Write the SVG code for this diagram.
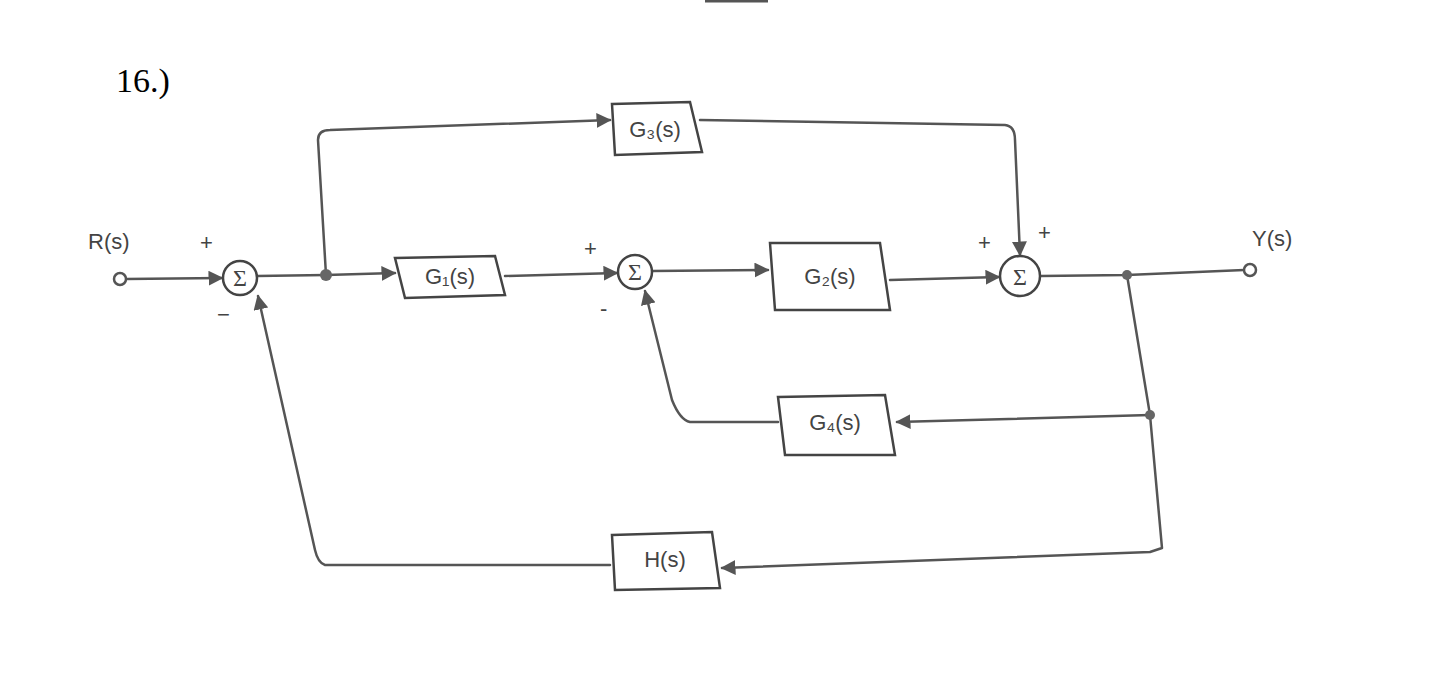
<svg xmlns="http://www.w3.org/2000/svg" width="1432" height="682" viewBox="0 0 1432 682">
<style>
.w{fill:none;stroke:#555;stroke-width:2.5;stroke-linecap:round;stroke-linejoin:round}
.b{fill:#fff;stroke:#444;stroke-width:2.5}
.t{font-family:"Liberation Sans",sans-serif;font-size:22px;fill:#444}
.s{font-family:"Liberation Serif",serif;font-size:24px;fill:#444}
.d{fill:#666}
</style>
<defs><marker id="a" viewBox="0 0 10 10" refX="9" refY="5" markerWidth="6" markerHeight="6" orient="auto"><path d="M0,0L10,5L0,10z" fill="#555"/></marker></defs>
<rect width="1432" height="682" fill="#fff"/>
<text x="116" y="92" font-family="Liberation Serif,serif" font-size="34" fill="#000">16.)</text>
<line x1="705" y1="1" x2="768" y2="1" stroke="#555" stroke-width="3"/>
<g id="connectors">
<path class="w" d="M126,279 L222,278" marker-end="url(#a)"/>
<path class="w" d="M257,276 L326,275 L395,273" marker-end="url(#a)"/>
<path class="w" d="M326,275 L318,140 Q318,130 330,130 L610,120" marker-end="url(#a)"/>
<path class="w" d="M505,276 L617,273" marker-end="url(#a)"/>
<path class="w" d="M652,271 L768,270" marker-end="url(#a)"/>
<path class="w" d="M890,280 L999,277" marker-end="url(#a)"/>
<path class="w" d="M700,120 L1005,125 Q1015,126 1015,140 L1020,255" marker-end="url(#a)"/>
<path class="w" d="M1041,276 L1127,275 L1244,270"/>
<path class="w" d="M1127,275 L1150,415 L1162,548 L1150,552 L722,568" marker-end="url(#a)"/>
<path class="w" d="M1150,415 L897,422" marker-end="url(#a)"/>
<path class="w" d="M778,422 L690,422 Q680,420 672,400 L645,291" marker-end="url(#a)"/>
<path class="w" d="M610,565 L325,565 Q318,563 315,550 L258,296" marker-end="url(#a)"/>
<circle cx="326" cy="275" r="6" class="d"/>
<circle cx="1127" cy="275" r="5" class="d"/>
<circle cx="1150" cy="415" r="5" class="d"/>
</g>
<g id="R"><circle cx="120" cy="279" r="6" fill="#fff" stroke="#555" stroke-width="2.5"/><text class="t" x="88" y="249" font-size="18">R(s)</text></g>
<g id="Y"><circle cx="1250" cy="270" r="6" fill="#fff" stroke="#555" stroke-width="2.5"/><text class="t" x="1252" y="246">Y(s)</text></g>
<g id="sum1"><circle cx="240" cy="278" r="17" class="b"/><text class="s" x="240" y="286" text-anchor="middle">Σ</text><text class="t" x="200" y="250">+</text><text class="t" x="217" y="322">−</text></g>
<g id="sum2"><circle cx="635" cy="272" r="17" class="b"/><text class="s" x="635" y="280" text-anchor="middle">Σ</text><text class="t" x="584" y="256">+</text><text class="t" x="600" y="316">-</text></g>
<g id="sum3"><circle cx="1020" cy="276" r="20" class="b"/><text class="s" x="1020" y="285" text-anchor="middle">Σ</text><text class="t" x="978" y="250">+</text><text class="t" x="1038" y="240">+</text></g>
<g id="G1"><path class="b" d="M395,258 L495,256 L505,295 L405,298 Z"/><text class="t" x="450" y="284" text-anchor="middle">G₁(s)</text></g>
<g id="G2"><path class="b" d="M770,243 L880,243 L890,310 L775,310 Z"/><text class="t" x="830" y="284" text-anchor="middle">G₂(s)</text></g>
<g id="G3"><path class="b" d="M612,104 L690,102 L702,152 L615,155 Z"/><text class="t" x="655" y="137" text-anchor="middle">G₃(s)</text></g>
<g id="G4"><path class="b" d="M778,397 L885,395 L895,455 L785,455 Z"/><text class="t" x="835" y="430" text-anchor="middle">G₄(s)</text></g>
<g id="H"><path class="b" d="M612,535 L712,532 L720,588 L615,590 Z"/><text class="t" x="665" y="567" text-anchor="middle">H(s)</text></g>
</svg>
